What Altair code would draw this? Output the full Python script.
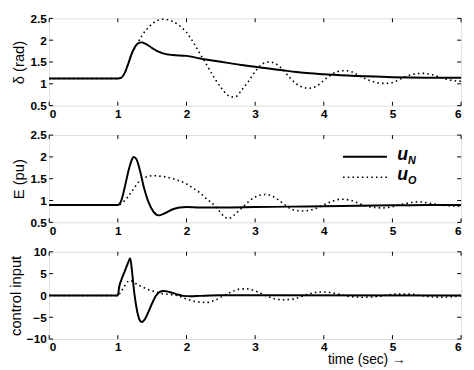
import altair as alt
import pandas as pd

# ---------------- data ----------------
x_ticks = [0, 1, 2, 3, 4, 5, 6]

# panel 1: delta (rad)
dN_t = [0, 1.0, 1.05, 1.1, 1.15, 1.2, 1.25, 1.3, 1.35, 1.4, 1.5, 1.6, 1.7, 1.8, 2.0, 2.2, 2.4, 2.6, 2.8, 3.0, 3.2, 3.4, 3.6, 3.8, 4.0, 4.2, 4.5, 5.0, 5.5, 6.0]
dN_v = [1.12, 1.12, 1.14, 1.25, 1.45, 1.68, 1.85, 1.93, 1.95, 1.92, 1.82, 1.73, 1.68, 1.66, 1.64, 1.58, 1.53, 1.48, 1.43, 1.39, 1.35, 1.31, 1.27, 1.24, 1.22, 1.20, 1.18, 1.15, 1.14, 1.14]
dO_t = [0, 1.0, 1.05, 1.1, 1.2, 1.27, 1.35, 1.45, 1.55, 1.66, 1.8, 1.9, 2.0, 2.1, 2.2, 2.3, 2.4, 2.5, 2.6, 2.65, 2.72, 2.8, 2.9, 3.0, 3.1, 3.2, 3.3, 3.4, 3.5, 3.6, 3.7, 3.78, 3.9, 4.0, 4.1, 4.2, 4.3, 4.4, 4.5, 4.6, 4.7, 4.8, 4.9, 5.0, 5.1, 5.2, 5.3, 5.45, 5.6, 5.7, 5.8, 5.9, 6.0]
dO_v = [1.12, 1.12, 1.14, 1.25, 1.68, 1.88, 2.1, 2.3, 2.43, 2.48, 2.43, 2.33, 2.18, 1.95, 1.68, 1.42, 1.15, 0.92, 0.74, 0.70, 0.71, 0.85, 1.05, 1.28, 1.45, 1.50, 1.46, 1.33, 1.15, 1.0, 0.92, 0.90, 0.95, 1.08, 1.20, 1.28, 1.30, 1.28, 1.20, 1.12, 1.06, 1.02, 1.01, 1.03, 1.10, 1.17, 1.22, 1.24, 1.20, 1.15, 1.10, 1.07, 1.06]

# panel 2: E (pu)
eN_t = [0, 1.0, 1.05, 1.1, 1.15, 1.2, 1.23, 1.27, 1.32, 1.38, 1.45, 1.52, 1.6, 1.7, 1.8, 1.9, 2.0, 2.2, 2.5, 3.0, 3.5, 4.0, 4.5, 5.0, 5.5, 6.0]
eN_v = [0.9, 0.9, 1.0, 1.3, 1.65, 1.92, 2.0, 1.95, 1.7, 1.3, 0.95, 0.74, 0.66, 0.72, 0.8, 0.84, 0.85, 0.84, 0.84, 0.85, 0.86, 0.87, 0.88, 0.89, 0.9, 0.9]
eO_t = [0, 1.0, 1.05, 1.1, 1.2, 1.3, 1.4, 1.52, 1.6, 1.7, 1.8, 1.9, 2.0, 2.1, 2.2, 2.3, 2.4, 2.5, 2.55, 2.62, 2.71, 2.8, 2.9, 3.0, 3.15, 3.25, 3.35, 3.45, 3.55, 3.7, 3.85, 4.0, 4.1, 4.25, 4.4, 4.5, 4.6, 4.75, 4.85, 5.0, 5.1, 5.25, 5.37, 5.5, 5.65, 5.8, 6.0]
eO_v = [0.9, 0.9, 0.93, 1.0, 1.2, 1.42, 1.53, 1.57, 1.56, 1.54, 1.5, 1.45, 1.38, 1.28, 1.17, 1.03, 0.9, 0.72, 0.63, 0.59, 0.69, 0.82, 0.97, 1.08, 1.14, 1.1, 1.0, 0.88, 0.79, 0.76, 0.8, 0.9, 0.97, 1.03, 1.0, 0.94, 0.88, 0.84, 0.83, 0.86, 0.9, 0.95, 0.97, 0.95, 0.91, 0.88, 0.87]

# panel 3: control input
cN_t = [0, 1.0, 1.02, 1.05, 1.1, 1.15, 1.18, 1.21, 1.24, 1.28, 1.32, 1.35, 1.4, 1.45, 1.5, 1.55, 1.6, 1.67, 1.75, 1.85, 1.95, 2.05, 2.2, 2.5, 3.0, 6.0]
cN_v = [0, 0, 2.0, 3.5, 5.5, 7.5, 8.5, 5.0, 0.5, -3.5, -5.7, -6.1, -5.3, -3.6, -1.8, -0.2, 0.7, 1.0, 0.8, 0.3, -0.1, -0.2, -0.1, 0.05, 0.05, 0]
cO_t = [0, 1.0, 1.05, 1.1, 1.15, 1.18, 1.25, 1.35, 1.42, 1.55, 1.65, 1.75, 1.85, 2.0, 2.17, 2.3, 2.4, 2.5, 2.6, 2.7, 2.8, 2.88, 2.95, 3.05, 3.15, 3.25, 3.4, 3.52, 3.65, 3.75, 3.85, 4.0, 4.12, 4.27, 4.4, 4.55, 4.75, 4.9, 5.05, 5.25, 5.4, 5.55, 5.7, 5.85, 6.0]
cO_v = [0, 0, 1.0, 2.2, 3.2, 3.4, 2.8, 2.0, 1.5, 0.8, 0.4, 0.2, 0.0, -0.8, -1.5, -1.6, -1.2, -0.4, 0.4, 1.1, 1.5, 1.5, 1.3, 0.7, 0.0, -0.6, -1.0, -0.9, -0.4, 0.2, 0.6, 0.8, 0.6, 0.1, -0.3, -0.4, -0.3, 0.0, 0.3, 0.3, 0.0, -0.3, -0.4, -0.3, -0.1]

legend_names = ["N", "O"]

# ---------------- styling ----------------
W, H = 420, 89
FONT = "Liberation Sans"
TICK = 4
LX1, LX2, LTX = W * 4.28 / 6, W * 4.92 / 6, W * 5.07 / 6


def panel(solid, dotted, ydomain, yticks, ytitle, xtitle=None, legend=False):
    xs = alt.Scale(domain=[0, 6], nice=False, zero=False)
    ys = alt.Scale(domain=ydomain, nice=False, zero=False)
    xkw = dict(values=x_ticks, ticks=False, domain=False, grid=False,
               labelPadding=3, labelFontWeight="bold", format="d",
               labelOverlap=False, labelFontSize=12)
    if xtitle:
        xaxis = alt.Axis(title=xtitle, titleX=W * 0.77, titleY=14,
                         titleFontWeight="normal", titleFontSize=14,
                         titleAnchor="middle", **xkw)
    else:
        xaxis = alt.Axis(title=None, **xkw)
    yaxis = alt.Axis(values=yticks, ticks=False, domain=False, grid=False,
                     labelPadding=3, labelFontWeight="bold", format="~f",
                     labelOverlap=False, labelFontSize=12,
                     title=ytitle, titleFontWeight="normal", titleFontSize=15,
                     titlePadding=3)

    X = alt.X("t:Q", scale=xs, axis=xaxis)
    Y = alt.Y("v:Q", scale=ys, axis=yaxis)

    df_s = pd.DataFrame({"t": solid[0], "v": solid[1]})
    df_d = pd.DataFrame({"t": dotted[0], "v": dotted[1]})
    base_s = alt.Chart(df_s).mark_line(color="black", strokeWidth=2, interpolate="monotone").encode(
        x=X, y=Y)
    base_d = alt.Chart(df_d).mark_line(color="black", strokeWidth=1.6, strokeDash=[1.6, 3.2],
                                       interpolate="monotone").encode(x=X, y=Y)
    dfx = pd.DataFrame({"t": x_ticks})
    dfy = pd.DataFrame({"v": yticks})
    tx_top = alt.Chart(dfx).mark_rule(color="black", strokeWidth=1).encode(
        x=X, y=alt.value(0), y2=alt.value(TICK))
    tx_bot = alt.Chart(dfx).mark_rule(color="black", strokeWidth=1).encode(
        x=X, y=alt.value(H), y2=alt.value(H - TICK))
    ty_l = alt.Chart(dfy).mark_rule(color="black", strokeWidth=1).encode(
        y=Y, x=alt.value(0), x2=alt.value(TICK))
    ty_r = alt.Chart(dfy).mark_rule(color="black", strokeWidth=1).encode(
        y=Y, x=alt.value(W - TICK), x2=alt.value(W))
    layers = [base_s, base_d, tx_top, tx_bot, ty_l, ty_r]

    if legend:
        one = pd.DataFrame({"n": [legend_names[0]]})
        two = pd.DataFrame({"n": [legend_names[1]]})
        layers.append(alt.Chart(one).mark_rule(color="black", strokeWidth=2).encode(
            x=alt.value(LX1), x2=alt.value(LX2), y=alt.value(22)))
        layers.append(alt.Chart(two).mark_rule(color="black", strokeWidth=1.6, strokeDash=[1.6, 3.2]).encode(
            x=alt.value(LX1), x2=alt.value(LX2), y=alt.value(43)))
        for df, yy in [(one, 22), (two, 43)]:
            layers.append(alt.Chart(df).mark_text(text="u", font=FONT, fontSize=18, fontWeight="bold",
                                                  fontStyle="italic", align="left", baseline="middle",
                                                  color="black").encode(
                x=alt.value(LTX), y=alt.value(yy - 2)))
            layers.append(alt.Chart(df).mark_text(font=FONT, fontSize=11, fontWeight="bold",
                                                  fontStyle="italic", align="left", baseline="middle",
                                                  color="black").encode(
                text="n:N", x=alt.value(LTX + 11), y=alt.value(yy + 4)))

    return alt.layer(*layers).properties(width=W, height=H)


p1 = panel((dN_t, dN_v), (dO_t, dO_v), [0.5, 2.5], [0.5, 1, 1.5, 2, 2.5], "δ (rad)")
p2 = panel((eN_t, eN_v), (eO_t, eO_v), [0.5, 2.5], [0.5, 1, 1.5, 2, 2.5], "E (pu)", legend=True)
p3 = panel((cN_t, cN_v), (cO_t, cO_v), [-10, 10], [-10, -5, 0, 5, 10], "control input",
           xtitle="time (sec) →")

chart = alt.vconcat(p1, p2, p3, spacing=8).properties(
    padding={"left": 0, "top": 0, "right": 0, "bottom": 0}
).configure_view(stroke="black", strokeWidth=1).configure_axis(
    labelFont=FONT, titleFont=FONT, labelColor="black", titleColor="black"
).configure(background="white")

chart.save("out.html", embed_options={"renderer": "svg", "actions": False})
